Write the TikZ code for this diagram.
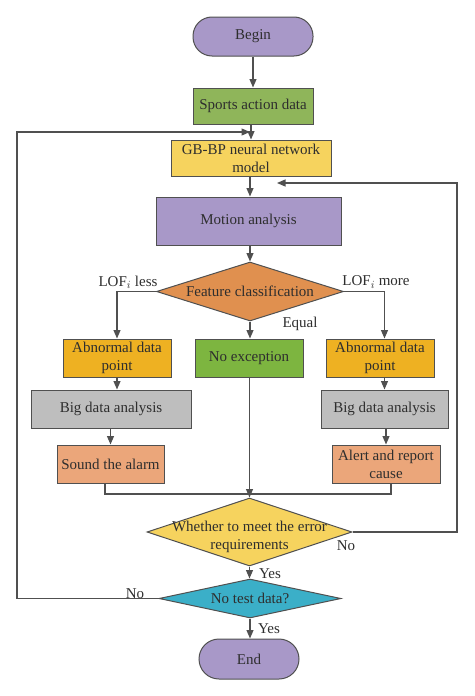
\documentclass[tikz,border=0pt]{standalone}
\usepackage{fontspec}
\setmainfont{Liberation Serif}
\usetikzlibrary{shapes.geometric,arrows.meta}
\definecolor{cpurple}{HTML}{A898C8}
\definecolor{cgreenA}{HTML}{8FB55A}
\definecolor{cyellow}{HTML}{F6D35E}
\definecolor{corange}{HTML}{E0904F}
\definecolor{cgold}{HTML}{EEB122}
\definecolor{cgreenB}{HTML}{7DB540}
\definecolor{cgray}{HTML}{BEBEBE}
\definecolor{csalmon}{HTML}{EBA67A}
\definecolor{cteal}{HTML}{3BAFC8}
\definecolor{cline}{HTML}{505050}
\definecolor{ctext}{HTML}{2E2E2E}
\tikzset{
  box/.style={draw=cline, line width=1pt, rectangle, inner sep=1pt, align=center, text=ctext,
    font=\fontsize{15}{18}\selectfont},
  term/.style={box, rounded corners=19pt},
  dia/.style={draw=cline, line width=1pt, diamond, inner sep=0pt, text=ctext,
    font=\fontsize{15}{18}\selectfont},
  lbl/.style={text=ctext, font=\fontsize{15}{18}\selectfont, inner sep=0pt},
  conn/.style={draw=cline, line width=1.2pt},
  arr/.style={conn, -{Triangle[length=8.5pt,width=7pt]}},
}
\begin{document}
\begin{tikzpicture}[x=1pt,y=-1pt]
\useasboundingbox (0,0) rectangle (474,696);

\node[term, fill=cpurple, minimum width=120, minimum height=39] (begin) at (253,36.5) {Begin};
\node[box, fill=cgreenA, minimum width=120, minimum height=36] (sports) at (253,106) {Sports action data};
\node[box, fill=cyellow, minimum width=160, minimum height=36] (gbbp) at (251,158) {GB-BP neural network\\model};
\node[box, fill=cpurple, minimum width=185, minimum height=48] (motion) at (248.5,221) {Motion analysis};
\node[dia, fill=corange, aspect=3.17, minimum width=187, minimum height=59] (feature) at (250,291.5) {Feature classification};

\node[box, fill=cgold, minimum width=108, minimum height=38] (abnL) at (117,358) {Abnormal data\\point};
\node[box, fill=cgreenB, minimum width=108, minimum height=38] (noexc) at (249,358) {No exception};
\node[box, fill=cgold, minimum width=108, minimum height=38] (abnR) at (380,358) {Abnormal data\\point};

\node[box, fill=cgray, minimum width=160, minimum height=38] (bigL) at (111,409) {Big data analysis};
\node[box, fill=cgray, minimum width=127, minimum height=38] (bigR) at (384.5,409) {Big data analysis};

\node[box, fill=csalmon, minimum width=107, minimum height=38] (sound) at (110.5,464) {Sound the alarm};
\node[box, fill=csalmon, minimum width=108, minimum height=38] (alert) at (386,464) {Alert and report\\cause};

\node[dia, fill=cyellow, minimum width=205, minimum height=68] (whether) at (249.5,532) {};
\node[lbl, align=center] (whethertext) at (249.5,537) {Whether to meet the error\\requirements};

\node[dia, fill=cteal, aspect=4.67, minimum width=182, minimum height=39] (notest) at (250,598.5) {No test data?};
\node[term, fill=cpurple, minimum width=100, minimum height=40, rounded corners=20pt] (end) at (249,659) {End};

\coordinate (loopL) at (250,132);
\coordinate (loopR) at (277,183);
\coordinate (merge) at (250,494);

% main spine
\draw[arr] (begin.south) -- (begin.south |- sports.north);
\draw[arr] (sports.south -| gbbp.north) -- (gbbp.north);
\draw[arr] (gbbp.south -| 250,0) -- (250,0 |- motion.north);
\draw[arr] (motion.south -| feature.north) -- (feature.north);

% branches
\draw[arr] (feature.west) -| (abnL.north);
\draw[arr] (feature.east) -| (bigR.north |- abnR.north);
\draw[arr] (feature.south) -- (feature.south |- noexc.north);

\draw[arr] (abnL.south) -- (abnL.south |- bigL.north);
\draw[arr] (bigL.south -| sound.north) -- (sound.north);
\draw[arr] (bigR.north |- abnR.south) -- (bigR.north);
\draw[arr] (bigR.south -| alert.north) -- (alert.north);

\draw[conn] ([xshift=-5.5pt]sound.south) |- (merge) -| ([xshift=5pt]alert.south);
\draw[arr] (noexc.south -| whether.north) -- (whether.north);

\draw[arr] (whether.south) -- (whether.south |- notest.north);
\draw[arr] (notest.south) -- (notest.south |- end.north);

% loops
\draw[arr] (whether.east) -- (457,532) |- (loopR);
\draw[arr] (notest.west) -- (17,598.5) |- (loopL);

% labels
\node[lbl] (lless) at (128,282) {LOF$_i$ less};
\node[lbl] (lmore) at (376,282) {LOF$_i$ more};
\node[lbl] (lequal) at (300,324) {Equal};
\node[lbl] (lno1) at (346,546) {No};
\node[lbl] (lyes1) at (270,574) {Yes};
\node[lbl] (lno2) at (135,594) {No};
\node[lbl] (lyes2) at (269,629) {Yes};
\end{tikzpicture}
\end{document}
